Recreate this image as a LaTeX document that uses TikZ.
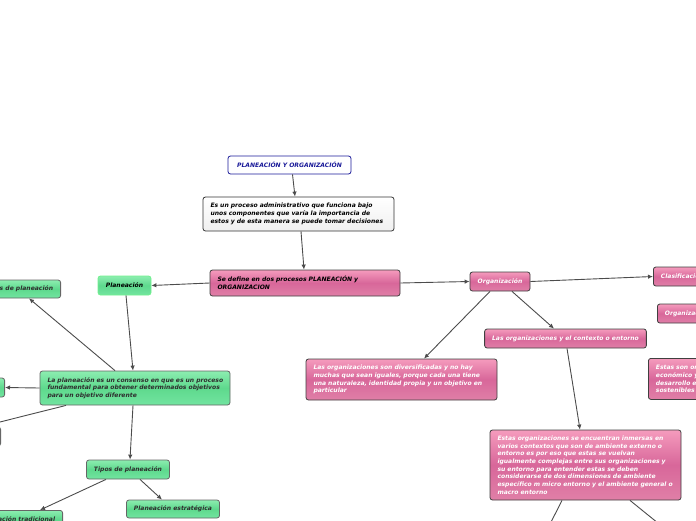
\documentclass[tikz,border=0pt]{standalone}
\usepackage{fontspec}
\newfontfamily\boxfont{DejaVu Sans}
\usetikzlibrary{arrows.meta}
\definecolor{pinktop}{HTML}{F59BBD}
\definecolor{pinkmid}{HTML}{D8679A}
\definecolor{pinkbot}{HTML}{E07FA7}
\definecolor{greentop}{HTML}{8CEDB0}
\definecolor{greenmid}{HTML}{5ED98D}
\definecolor{greenbot}{HTML}{72E4A0}
\definecolor{edgegray}{HTML}{555555}
\definecolor{titleblue}{HTML}{1A1A99}
\definecolor{greentext}{HTML}{2E2E2E}
\tikzset{
  basebox/.style={rounded corners=2.5pt, line width=0.8pt, inner xsep=7.5pt, inner ysep=2pt,
    font=\boxfont\bfseries\itshape\fontsize{6.05}{7.7}\selectfont},
  pinkbox/.style={basebox, draw=black!75, top color=pinktop, bottom color=pinkbot, middle color=pinkmid, text=white},
  greenbox/.style={basebox, draw=edgegray!90, top color=greentop, bottom color=greenbot, middle color=greenmid, text=greentext},
  whitebox/.style={basebox, draw=black!80, top color=white, bottom color=black!6, text=black},
  titlebox/.style={basebox, draw=titleblue, fill=white, text=titleblue},
  conn/.style={draw=black!70, line width=0.9pt, -{Latex[length=5pt,width=4.5pt]}}
}
\begin{document}
\begin{tikzpicture}[x=1pt,y=-1pt]
\useasboundingbox (0,0) rectangle (696,520);
\clip (0,0) rectangle (696,520);
% top
\node[titlebox, minimum width=123pt, minimum height=18pt] (title) at (289.5,165) {PLANEACIÓN Y ORGANIZACIÓN};
\node[whitebox, minimum width=191pt, minimum height=34pt, text width=176pt, align=left] (desc) at (298.5,214)
  {\mbox{Es un proceso administrativo que funciona bajo}\\ \mbox{unos componentes que varía la importancia de}\\ \mbox{estos y de esta manera se puede tomar decisiones}};
\node[pinkbox, text=black, minimum width=190pt, minimum height=26pt, text width=175pt, align=left] (sedef) at (305,283)
  {Se define en dos procesos PLANEACIÓN y\\ ORGANIZACION};
% left (green)
\node[greenbox, draw=greentop!80!green, text=black, minimum width=53pt, minimum height=19pt] (plan) at (124.5,285.5) {Planeación};
\node[greenbox, anchor=east, minimum height=18pt] (comp) at (61,289) {Componentes de planeación};
\node[greenbox, minimum width=190pt, minimum height=34pt, text width=175pt, align=left] (laplan) at (135,388)
  {\mbox{La planeación es un consenso en que es un proceso}\\ \mbox{fundamental para obtener determinados objetivos}\\ \mbox{para un objetivo diferente}};
\node[greenbox, anchor=east, minimum width=40pt, minimum height=19pt] (left1) at (5,387.5) {};
\node[greenbox, anchor=east, minimum width=38pt, minimum height=19pt] (left2) at (1,436.5) {};
\node[greenbox, minimum width=82pt, minimum height=19pt] (tipos) at (128,469.5) {Tipos de planeación};
\node[greenbox, minimum width=92pt, minimum height=18pt] (estrat) at (173,509) {Planeación estratégica};
\node[greenbox, anchor=north east, minimum height=18pt] (trad) at (63,510) {Planeación tradicional};
% right (pink)
\node[pinkbox, minimum width=60pt, minimum height=19pt] (org) at (500,281.5) {Organización};
\node[pinkbox, anchor=west, minimum height=19pt] (clasif) at (653,276.5) {Clasificación de las organizaciones};
\node[pinkbox, anchor=west, minimum height=19pt] (organiza) at (657,313.5) {Organizaciones};
\node[pinkbox, minimum width=161pt, minimum height=19pt] (contexto) at (565.5,338.5) {Las organizaciones y el contexto o entorno};
\node[pinkbox, minimum width=191pt, minimum height=41pt, text width=176pt, align=left] (divers) at (401.5,379.5)
  {\mbox{Las organizaciones son diversificadas y no hay}\\ \mbox{muchas que sean iguales, porque cada una tiene}\\ \mbox{una naturaleza, identidad propia y un objetivo en}\\ particular};
\node[pinkbox, anchor=north west, minimum width=110pt, minimum height=41pt, text width=95pt, align=left] (estasson) at (648,358)
  {\mbox{Estas son organizaciones}\\ \mbox{económico y social}\\ \mbox{desarrollo económico}\\ sostenibles};
\node[pinkbox, minimum width=191pt, minimum height=70pt, text width=176pt, align=left] (estasorg) at (585.5,465)
  {\mbox{Estas organizaciones se encuentran inmersas en}\\ \mbox{varios contextos que son de ambiente externo o}\\ \mbox{entorno es por eso que estas se vuelvan}\\ \mbox{igualmente complejas entre sus organizaciones y}\\ \mbox{su entorno para entender estas se deben}\\ \mbox{considerarse de dos dimensiones de ambiente}\\ \mbox{específico m micro entorno y el ambiente general o}\\ macro entorno};
\coordinate (e1) at (546,532);
\coordinate (e2) at (669,532);
% connectors
\draw[conn] ([xshift=3pt]title.south) -- ([xshift=-3.5pt]desc.north);
\draw[conn] ([xshift=2.5pt]desc.south) -- ([xshift=-1pt]sedef.north);
\draw[conn] (sedef.east) -- (org.west);
\draw[conn] (sedef.west) -- (plan.east);
\draw[conn] ([xshift=1.5pt]plan.south) -- ([xshift=-2pt]laplan.north);
\draw[conn] ([xshift=-20pt]laplan.north) -- ([xshift=-32pt]comp.south east);
\draw[conn] (laplan.west) -- (left1.east);
\draw[conn] ([xshift=-69pt]laplan.south) -- (left2.north);
\draw[conn] ([xshift=-2pt]laplan.south) -- ([xshift=2pt]tipos.north);
\draw[conn] ([xshift=-22pt]tipos.south) -- ([xshift=-23pt]trad.north east);
\draw[conn] ([xshift=12pt]tipos.south) -- ([xshift=-11pt]estrat.north);
\draw[conn] (org.east) -- (clasif.west);
\draw[conn] ([xshift=-10pt]org.south) -- ([xshift=22.5pt]divers.north);
\draw[conn] ([xshift=12pt]org.south) -- ([xshift=-11.5pt]contexto.north);
\draw[conn] ([xshift=1.5pt]contexto.south) -- ([xshift=-5.5pt]estasorg.north);
\draw[conn] ([xshift=-23.5pt]estasorg.south) -- (e1);
\draw[conn] ([xshift=44.5pt]estasorg.south) -- (e2);
\end{tikzpicture}
\end{document}
